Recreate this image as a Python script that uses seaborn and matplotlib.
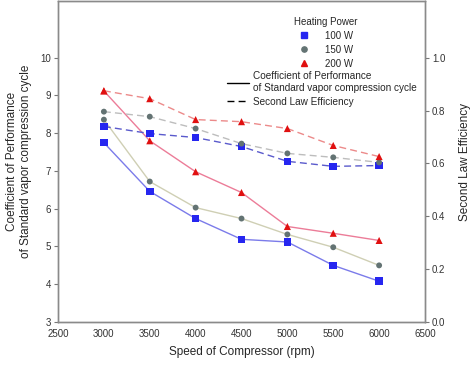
import numpy as np
import pandas as pd
import matplotlib
matplotlib.use("Agg")
import matplotlib.pyplot as plt
import seaborn as sns
from matplotlib.lines import Line2D

# Data
speed = [3000, 3500, 4000, 4500, 5000, 5500, 6000]
powers = ["100 W", "150 W", "200 W"]

cop_100 = [7.75, 6.46, 5.74, 5.19, 5.12, 4.50, 4.08]
cop_150 = [8.36, 6.72, 6.03, 5.74, 5.32, 4.98, 4.50]
cop_200 = [9.12, 7.80, 6.98, 6.43, 5.53, 5.35, 5.16]

eff_100 = [0.740, 0.713, 0.698, 0.664, 0.608, 0.589, 0.592]
eff_150 = [0.796, 0.777, 0.732, 0.675, 0.638, 0.623, 0.604]
eff_200 = [0.875, 0.845, 0.766, 0.758, 0.732, 0.668, 0.626]

line_colors = {"100 W": "#7b7bea", "150 W": "#cfcfb4", "200 W": "#ec7c98"}
dash_colors = {"100 W": "#5a5acc", "150 W": "#bdbdbd", "200 W": "#ec8a8a"}
mark_colors = {"100 W": "#2626f0", "150 W": "#637373", "200 W": "#e01010"}
mark_shapes = {"100 W": "s", "150 W": "o", "200 W": "^"}
mark_sizes = {"100 W": 30, "150 W": 18, "200 W": 26}

cop = pd.DataFrame({
    "speed": speed * 3,
    "power": np.repeat(powers, len(speed)),
    "value": cop_100 + cop_150 + cop_200,
})
eff = pd.DataFrame({
    "speed": speed * 3,
    "power": np.repeat(powers, len(speed)),
    "value": eff_100 + eff_150 + eff_200,
})

sns.set_style("white")
plt.rcParams["font.family"] = ["Liberation Sans", "DejaVu Sans"]

fig = plt.figure(figsize=(4.74, 3.66), dpi=100)
ax = fig.add_axes([0.1224, 0.1202, 0.7742, 0.8768])
ax2 = ax.twinx()

# Coefficient of performance (solid, left axis)
sns.lineplot(data=cop, x="speed", y="value", hue="power", palette=line_colors,
             lw=1.0, ax=ax, legend=False)
# Second law efficiency (dashed, right axis)
sns.lineplot(data=eff, x="speed", y="value", hue="power", palette=dash_colors,
             lw=1.0, ax=ax2, legend=False)
for ln in ax2.lines:
    ln.set_dashes([5, 3])

for p in powers:
    sub = cop[cop["power"] == p]
    sns.scatterplot(data=sub, x="speed", y="value", color=mark_colors[p],
                    marker=mark_shapes[p], s=mark_sizes[p], edgecolor="none",
                    ax=ax, zorder=5, legend=False)
    sub = eff[eff["power"] == p]
    sns.scatterplot(data=sub, x="speed", y="value", color=mark_colors[p],
                    marker=mark_shapes[p], s=mark_sizes[p], edgecolor="none",
                    ax=ax2, zorder=5, legend=False)

ax.set_xlim(2500, 6500)
ax.set_ylim(3, 11.5)
ax2.set_ylim(0, 8.5 / 7)
ax.set_xticks(range(2500, 6501, 500))
ax.set_yticks(range(3, 11))
ax2.set_yticks([0.0, 0.2, 0.4, 0.6, 0.8, 1.0])
ax2.set_yticklabels(["0.0", "0.2", "0.4", "0.6", "0.8", "1.0"])

for a in (ax, ax2):
    for s in a.spines.values():
        s.set_color("#8a8a8a")
        s.set_linewidth(1.0)
    a.tick_params(direction="out", length=3, width=0.8, color="#777777",
                  labelsize=7, labelcolor="#333333", pad=2)

ax.set_xlabel("Speed of Compressor (rpm)", fontsize=8.5, labelpad=5)
ax.set_ylabel("Coefficient of Performance\nof Standard vapor compression cycle",
              fontsize=8.5, labelpad=6)
ax2.set_ylabel("Second Law Efficiency", fontsize=8.5, labelpad=10)

# Legends
leg_sizes = {"100 W": 4.8, "150 W": 3.8, "200 W": 4.8}
power_handles = [Line2D([], [], ls="none", marker=mark_shapes[p], color=mark_colors[p],
                        markersize=leg_sizes[p]) for p in powers]
leg1 = ax.legend(power_handles, powers, title="Heating Power", frameon=False,
                 fontsize=7, title_fontsize=7, loc="upper left",
                 bbox_to_anchor=(0.625, 0.972), handlelength=1.0, handletextpad=1.6,
                 labelspacing=0.4, borderpad=0.2)
ax.add_artist(leg1)

style_handles = [Line2D([], [], color="black", lw=1.0),
                 Line2D([], [], color="black", lw=1.0, dashes=[5, 3])]
ax.legend(style_handles,
          ["Coefficient of Performance\nof Standard vapor compression cycle",
           "Second Law Efficiency"],
          frameon=False, fontsize=7.2, loc="upper left",
          bbox_to_anchor=(0.445, 0.80), handlelength=2.2, handletextpad=0.4,
          labelspacing=0.4, borderpad=0.1)

fig.savefig("out.png", dpi=100)
